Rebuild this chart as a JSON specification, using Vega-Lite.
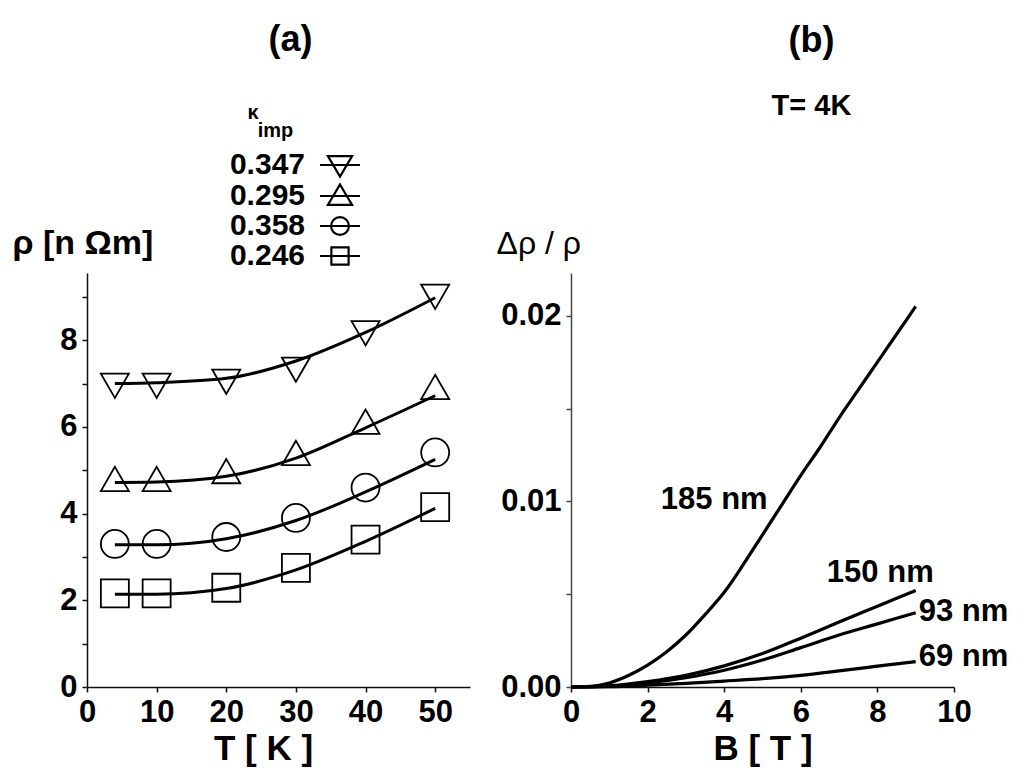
{
  "$schema": "https://vega.github.io/schema/vega-lite/v6.json",
  "padding": {"left": 12, "top": 22, "right": 5, "bottom": 5},
  "background": "white",
  "spacing": 26,
  "config": {
    "font": "Liberation Sans",
    "view": {"stroke": null},
    "axis": {
      "grid": false,
      "domainColor": "#111111",
      "domainWidth": 1.5,
      "tickColor": "#111111",
      "tickWidth": 1.5,
      "tickSize": 5,
      "labelFont": "Liberation Sans",
      "labelFontSize": 31,
      "labelFontWeight": "bold",
      "labelColor": "black",
      "labelPadding": 5,
      "labelOverlap": false,
      "labelFlush": false,
      "titleFont": "Liberation Sans",
      "titleColor": "black"
    },
    "title": {"font": "Liberation Sans", "color": "black", "subtitleColor": "black", "subtitleFont": "Liberation Sans"}
  },
  "datasets": {
    "points": [
      {"T": 4, "rho": 6.95, "kappa": "0.347"},
      {"T": 10, "rho": 6.95, "kappa": "0.347"},
      {"T": 20, "rho": 7.04, "kappa": "0.347"},
      {"T": 30, "rho": 7.32, "kappa": "0.347"},
      {"T": 40, "rho": 8.16, "kappa": "0.347"},
      {"T": 50, "rho": 9.0, "kappa": "0.347"},
      {"T": 4, "rho": 4.8, "kappa": "0.295"},
      {"T": 10, "rho": 4.8, "kappa": "0.295"},
      {"T": 20, "rho": 4.98, "kappa": "0.295"},
      {"T": 30, "rho": 5.4, "kappa": "0.295"},
      {"T": 40, "rho": 6.12, "kappa": "0.295"},
      {"T": 50, "rho": 6.92, "kappa": "0.295"},
      {"T": 4, "rho": 3.3, "kappa": "0.358"},
      {"T": 10, "rho": 3.3, "kappa": "0.358"},
      {"T": 20, "rho": 3.46, "kappa": "0.358"},
      {"T": 30, "rho": 3.9, "kappa": "0.358"},
      {"T": 40, "rho": 4.6, "kappa": "0.358"},
      {"T": 50, "rho": 5.41, "kappa": "0.358"},
      {"T": 4, "rho": 2.16, "kappa": "0.246"},
      {"T": 10, "rho": 2.16, "kappa": "0.246"},
      {"T": 20, "rho": 2.29, "kappa": "0.246"},
      {"T": 30, "rho": 2.75, "kappa": "0.246"},
      {"T": 40, "rho": 3.4, "kappa": "0.246"},
      {"T": 50, "rho": 4.15, "kappa": "0.246"}
    ],
    "fits": [
      {"T": 4, "rho": 7.0, "kappa": "0.347"},
      {"T": 10, "rho": 7.02, "kappa": "0.347"},
      {"T": 20, "rho": 7.12, "kappa": "0.347"},
      {"T": 30, "rho": 7.52, "kappa": "0.347"},
      {"T": 40, "rho": 8.18, "kappa": "0.347"},
      {"T": 50, "rho": 8.98, "kappa": "0.347"},
      {"T": 4, "rho": 4.72, "kappa": "0.295"},
      {"T": 10, "rho": 4.73, "kappa": "0.295"},
      {"T": 20, "rho": 4.86, "kappa": "0.295"},
      {"T": 30, "rho": 5.28, "kappa": "0.295"},
      {"T": 40, "rho": 5.98, "kappa": "0.295"},
      {"T": 50, "rho": 6.72, "kappa": "0.295"},
      {"T": 4, "rho": 3.28, "kappa": "0.358"},
      {"T": 10, "rho": 3.28, "kappa": "0.358"},
      {"T": 20, "rho": 3.42, "kappa": "0.358"},
      {"T": 30, "rho": 3.84, "kappa": "0.358"},
      {"T": 40, "rho": 4.5, "kappa": "0.358"},
      {"T": 50, "rho": 5.25, "kappa": "0.358"},
      {"T": 4, "rho": 2.14, "kappa": "0.246"},
      {"T": 10, "rho": 2.14, "kappa": "0.246"},
      {"T": 20, "rho": 2.27, "kappa": "0.246"},
      {"T": 30, "rho": 2.7, "kappa": "0.246"},
      {"T": 40, "rho": 3.36, "kappa": "0.246"},
      {"T": 50, "rho": 4.12, "kappa": "0.246"}
    ],
    "curves": [
      {"B": 0, "v": 0, "series": "185 nm"},
      {"B": 0.5, "v": 0.00004, "series": "185 nm"},
      {"B": 1, "v": 0.00022, "series": "185 nm"},
      {"B": 1.5, "v": 0.00062, "series": "185 nm"},
      {"B": 2, "v": 0.00118, "series": "185 nm"},
      {"B": 2.5, "v": 0.0019, "series": "185 nm"},
      {"B": 3, "v": 0.0028, "series": "185 nm"},
      {"B": 3.5, "v": 0.0039, "series": "185 nm"},
      {"B": 4, "v": 0.0051, "series": "185 nm"},
      {"B": 4.5, "v": 0.0066, "series": "185 nm"},
      {"B": 5, "v": 0.0082, "series": "185 nm"},
      {"B": 5.5, "v": 0.0098, "series": "185 nm"},
      {"B": 6, "v": 0.0114, "series": "185 nm"},
      {"B": 6.5, "v": 0.0129, "series": "185 nm"},
      {"B": 7, "v": 0.0145, "series": "185 nm"},
      {"B": 7.5, "v": 0.016, "series": "185 nm"},
      {"B": 8, "v": 0.0175, "series": "185 nm"},
      {"B": 8.5, "v": 0.019, "series": "185 nm"},
      {"B": 9, "v": 0.0205, "series": "185 nm"},
      {"B": 0, "v": 0, "series": "150 nm"},
      {"B": 1, "v": 0.00006, "series": "150 nm"},
      {"B": 2, "v": 0.00029, "series": "150 nm"},
      {"B": 3, "v": 0.00063, "series": "150 nm"},
      {"B": 4, "v": 0.00114, "series": "150 nm"},
      {"B": 5, "v": 0.0018, "series": "150 nm"},
      {"B": 6, "v": 0.00263, "series": "150 nm"},
      {"B": 7, "v": 0.0035, "series": "150 nm"},
      {"B": 8, "v": 0.00435, "series": "150 nm"},
      {"B": 9, "v": 0.0052, "series": "150 nm"},
      {"B": 0, "v": 0, "series": "93 nm"},
      {"B": 1, "v": 0.00005, "series": "93 nm"},
      {"B": 2, "v": 0.00022, "series": "93 nm"},
      {"B": 3, "v": 0.0005, "series": "93 nm"},
      {"B": 4, "v": 0.0009, "series": "93 nm"},
      {"B": 5, "v": 0.00145, "series": "93 nm"},
      {"B": 6, "v": 0.00212, "series": "93 nm"},
      {"B": 7, "v": 0.0028, "series": "93 nm"},
      {"B": 8, "v": 0.0034, "series": "93 nm"},
      {"B": 9, "v": 0.004, "series": "93 nm"},
      {"B": 0, "v": 0, "series": "69 nm"},
      {"B": 1, "v": 0.00002, "series": "69 nm"},
      {"B": 2, "v": 0.0001, "series": "69 nm"},
      {"B": 3, "v": 0.0002, "series": "69 nm"},
      {"B": 4, "v": 0.00032, "series": "69 nm"},
      {"B": 5, "v": 0.00045, "series": "69 nm"},
      {"B": 6, "v": 0.00063, "series": "69 nm"},
      {"B": 7, "v": 0.00087, "series": "69 nm"},
      {"B": 8, "v": 0.00112, "series": "69 nm"},
      {"B": 9, "v": 0.00137, "series": "69 nm"}
    ]
  },
  "hconcat": [
    {
      "width": 383,
      "height": 414,
      "title": {"text": "(a)", "subtitle": ["κ\u2800\u2800\u2800\u2800\u2800", "imp\u2800\u2800"], "fontSize": 36, "fontWeight": "bold", "anchor": "middle", "dx": 12, "offset": 8,
        "subtitleFontSize": 20, "subtitleFontWeight": "bold", "subtitleLineHeight": 18, "subtitlePadding": 44},
      "resolve": {"scale": {"shape": "independent"}, "legend": {"shape": "independent"}},
      "layer": [
        {
          "data": {"name": "fits"},
          "mark": {"type": "line", "interpolate": "monotone", "color": "black", "strokeWidth": 3},
          "encoding": {
            "x": {"field": "T", "type": "quantitative", "scale": {"domain": [0, 55], "nice": false},
              "axis": {"title": "T [ K ]", "values": [0, 5, 10, 15, 20, 25, 30, 35, 40, 45, 50, 55],
                "labelExpr": "datum.value % 10 == 0 ? datum.label : ''",
                "titleX": 176,
                "titleFontSize": 35, "titleFontWeight": "bold", "titlePadding": 4}},
            "y": {"field": "rho", "type": "quantitative", "scale": {"domain": [0, 9.55], "nice": false},
              "axis": {"title": "ρ [n Ωm]", "values": [0, 1, 2, 3, 4, 5, 6, 7, 8, 9],
                "labelExpr": "datum.value % 2 == 0 ? datum.label : ''",
                "titleAngle": 0, "titleAlign": "left", "titleBaseline": "middle",
                "titleX": -75, "titleY": -30, "titleFontSize": 34, "titleFontWeight": "bold"}},
            "detail": {"field": "kappa"}
          }
        },
        {
          "data": {"name": "points"},
          "mark": {"type": "point", "filled": false, "color": "black", "opacity": 1},
          "encoding": {
            "x": {"field": "T", "type": "quantitative"},
            "y": {"field": "rho", "type": "quantitative"},
            "shape": {"field": "kappa", "type": "nominal",
              "scale": {"domain": ["0.347", "0.295", "0.358", "0.246"], "range": ["triangle-down", "triangle-up", "circle", "square"]},
              "legend": null},
            "size": {"field": "kappa", "type": "nominal",
              "scale": {"domain": ["0.347", "0.295", "0.358", "0.246"], "range": [784, 784, 340, 330]}, "legend": null},
            "strokeWidth": {"field": "kappa", "type": "nominal",
              "scale": {"domain": ["0.347", "0.295", "0.358", "0.246"], "range": [1.8, 1.8, 3.5, 3.2]}, "legend": null}
          }
        },
        {
          "data": {"name": "points"},
          "transform": [{"filter": "false"}],
          "mark": {"type": "point", "filled": false, "color": "black", "opacity": 1, "strokeWidth": 2.2},
          "encoding": {
            "x": {"field": "T", "type": "quantitative"},
            "y": {"field": "rho", "type": "quantitative"},
            "shape": {"field": "kappa", "type": "nominal",
              "scale": {"domain": ["0.347", "0.295", "0.358", "0.246"],
                "range": [
                  "M-1.15,-0.85L1.15,-0.85L0,1.1Z M-1.9,0L1.9,0",
                  "M0,-1.1L1.15,0.85L-1.15,0.85Z M-1.9,0L1.9,0",
                  "M0.85,0A0.85,0.85 0 1,1 -0.85,0A0.85,0.85 0 1,1 0.85,0Z M-1.9,0L1.9,0",
                  "M-0.82,-0.82L0.82,-0.82L0.82,0.82L-0.82,0.82Z M-1.9,0L1.9,0"
                ]},
              "legend": {
                "orient": "none", "legendX": 238, "legendY": -123, "padding": 0, "title": null,
                "labelFontSize": 30, "labelFontWeight": "bold", "labelAlign": "right", "labelOffset": -50,
                "labelColor": "black", "labelLimit": 300,
                "symbolSize": 441, "symbolStrokeWidth": 2.2, "symbolStrokeColor": "black", "symbolFillColor": "transparent",
                "rowPadding": -5
              }}
          }
        }
      ]
    },
    {
      "width": 383,
      "height": 414,
      "title": {"text": "(b)", "subtitle": "T= 4K", "fontSize": 36, "fontWeight": "bold", "anchor": "middle", "dx": 49,
        "subtitleFontSize": 29, "subtitleFontWeight": "bold", "subtitlePadding": 32, "offset": 105},
      "layer": [
        {
          "data": {"name": "curves"},
          "mark": {"type": "line", "color": "black", "strokeWidth": 3.2, "interpolate": "monotone"},
          "encoding": {
            "x": {"field": "B", "type": "quantitative", "scale": {"domain": [0, 10], "nice": false},
              "axis": {"title": "B [ T ]", "values": [0, 1, 2, 3, 4, 5, 6, 7, 8, 9, 10],
                "labelExpr": "datum.value % 2 == 0 ? datum.label : ''",
                "titleFontSize": 35, "titleFontWeight": "bold", "titlePadding": 4}},
            "y": {"field": "v", "type": "quantitative", "scale": {"domain": [0, 0.0223], "nice": false},
              "axis": {"title": "Δρ / ρ", "values": [0, 0.005, 0.01, 0.015, 0.02], "format": ".2f",
                "labelExpr": "round(datum.value * 1000) % 10 == 0 ? datum.label : ''",
                "domainColor": "#444444", "tickColor": "#444444",
                "titleAngle": 0, "titleAlign": "left", "titleBaseline": "middle",
                "titleX": -75, "titleY": -30, "titleFontSize": 32, "titleFontWeight": "normal"}},
            "detail": {"field": "series"}
          }
        },
        {
          "data": {"name": "curves"},
          "transform": [{"filter": "datum.series == '185 nm' && datum.B == 5.5"}],
          "mark": {"type": "text", "align": "right", "baseline": "middle", "dx": -14, "dy": -5, "fontSize": 31, "fontWeight": "bold", "color": "black"},
          "encoding": {"x": {"field": "B", "type": "quantitative"}, "y": {"field": "v", "type": "quantitative"}, "text": {"field": "series"}}
        },
        {
          "data": {"name": "curves"},
          "transform": [{"filter": "datum.series == '150 nm' && datum.B == 9"}],
          "mark": {"type": "text", "align": "right", "baseline": "middle", "dx": 18, "dy": -17, "fontSize": 31, "fontWeight": "bold", "color": "black"},
          "encoding": {"x": {"field": "B", "type": "quantitative"}, "y": {"field": "v", "type": "quantitative"}, "text": {"field": "series"}}
        },
        {
          "data": {"name": "curves"},
          "transform": [{"filter": "datum.series == '93 nm' && datum.B == 9"}],
          "mark": {"type": "text", "align": "left", "baseline": "middle", "dx": 3, "dy": -1, "fontSize": 31, "fontWeight": "bold", "color": "black"},
          "encoding": {"x": {"field": "B", "type": "quantitative"}, "y": {"field": "v", "type": "quantitative"}, "text": {"field": "series"}}
        },
        {
          "data": {"name": "curves"},
          "transform": [{"filter": "datum.series == '69 nm' && datum.B == 9"}],
          "mark": {"type": "text", "align": "left", "baseline": "middle", "dx": 3, "dy": -5, "fontSize": 31, "fontWeight": "bold", "color": "black"},
          "encoding": {"x": {"field": "B", "type": "quantitative"}, "y": {"field": "v", "type": "quantitative"}, "text": {"field": "series"}}
        }
      ]
    }
  ]
}
